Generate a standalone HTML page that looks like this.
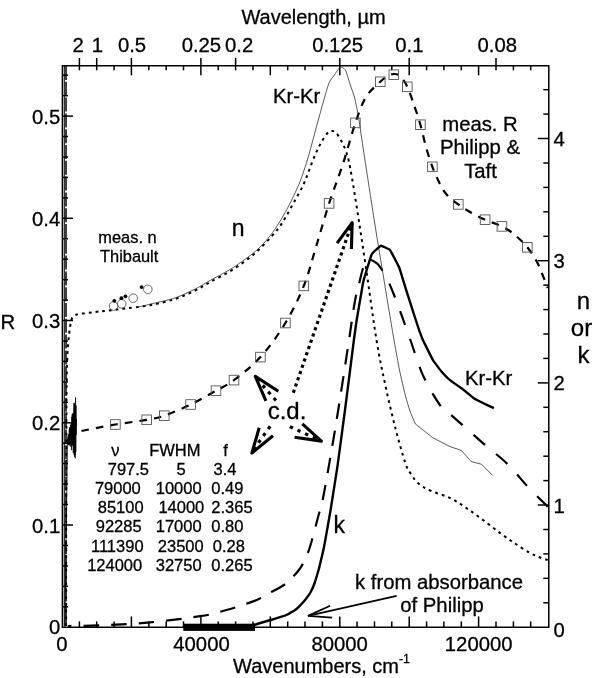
<!DOCTYPE html>
<html><head><meta charset="utf-8"><title>plot</title>
<style>html,body{margin:0;padding:0;background:#fff}svg{display:block}</style></head>
<body><svg width="600" height="678" viewBox="0 0 600 678">
<rect width="600" height="678" fill="#fff"/>
<g stroke="#000" stroke-width="1.5" fill="none" stroke-linecap="butt">
<path d="M62.4,65.7 H548.8 V627.2 H62.4 Z"/>
<path d="M79.4,58.0 V70.3"/>
<path d="M96.7,58.0 V70.3"/>
<path d="M114.1,65.7 V70.3"/>
<path d="M131.4,58.0 V75.3"/>
<path d="M148.8,65.7 V70.3"/>
<path d="M166.2,65.7 V70.3"/>
<path d="M183.5,65.7 V70.3"/>
<path d="M200.9,58.0 V75.3"/>
<path d="M218.2,65.7 V70.3"/>
<path d="M235.6,58.0 V70.3"/>
<path d="M253.0,65.7 V70.3"/>
<path d="M270.3,65.7 V75.3"/>
<path d="M287.7,65.7 V70.3"/>
<path d="M305.0,65.7 V70.3"/>
<path d="M322.4,65.7 V70.3"/>
<path d="M339.8,58.0 V75.3"/>
<path d="M357.1,65.7 V70.3"/>
<path d="M374.5,65.7 V70.3"/>
<path d="M391.8,65.7 V70.3"/>
<path d="M409.2,58.0 V75.3"/>
<path d="M426.6,65.7 V70.3"/>
<path d="M443.9,65.7 V70.3"/>
<path d="M461.3,65.7 V70.3"/>
<path d="M478.6,65.7 V75.3"/>
<path d="M496.0,58.0 V70.3"/>
<path d="M513.4,65.7 V70.3"/>
<path d="M530.7,65.7 V70.3"/>
<path d="M79.4,627.2 V621.4"/>
<path d="M96.7,627.2 V621.4"/>
<path d="M114.1,627.2 V621.4"/>
<path d="M131.4,627.2 V616.4"/>
<path d="M148.8,627.2 V621.4"/>
<path d="M166.2,627.2 V621.4"/>
<path d="M183.5,627.2 V621.4"/>
<path d="M200.9,627.2 V616.4"/>
<path d="M218.2,627.2 V621.4"/>
<path d="M235.6,627.2 V621.4"/>
<path d="M253.0,627.2 V621.4"/>
<path d="M270.3,627.2 V616.4"/>
<path d="M287.7,627.2 V621.4"/>
<path d="M305.0,627.2 V621.4"/>
<path d="M322.4,627.2 V621.4"/>
<path d="M339.8,627.2 V616.4"/>
<path d="M357.1,627.2 V621.4"/>
<path d="M374.5,627.2 V621.4"/>
<path d="M391.8,627.2 V621.4"/>
<path d="M409.2,627.2 V616.4"/>
<path d="M426.6,627.2 V621.4"/>
<path d="M443.9,627.2 V621.4"/>
<path d="M461.3,627.2 V621.4"/>
<path d="M478.6,627.2 V616.4"/>
<path d="M496.0,627.2 V621.4"/>
<path d="M513.4,627.2 V621.4"/>
<path d="M530.7,627.2 V621.4"/>
<path d="M62.4,606.8 H68.0"/>
<path d="M62.4,586.3 H68.0"/>
<path d="M62.4,565.9 H68.0"/>
<path d="M62.4,545.4 H68.0"/>
<path d="M62.4,525.0 H73.0"/>
<path d="M62.4,504.5 H68.0"/>
<path d="M62.4,484.1 H68.0"/>
<path d="M62.4,463.6 H68.0"/>
<path d="M62.4,443.2 H68.0"/>
<path d="M62.4,422.8 H73.0"/>
<path d="M62.4,402.3 H68.0"/>
<path d="M62.4,381.9 H68.0"/>
<path d="M62.4,361.4 H68.0"/>
<path d="M62.4,341.0 H68.0"/>
<path d="M62.4,320.5 H73.0"/>
<path d="M62.4,300.1 H68.0"/>
<path d="M62.4,279.7 H68.0"/>
<path d="M62.4,259.2 H68.0"/>
<path d="M62.4,238.8 H68.0"/>
<path d="M62.4,218.3 H73.0"/>
<path d="M62.4,197.9 H68.0"/>
<path d="M62.4,177.4 H68.0"/>
<path d="M62.4,157.0 H68.0"/>
<path d="M62.4,136.5 H68.0"/>
<path d="M62.4,116.1 H73.0"/>
<path d="M62.4,95.7 H68.0"/>
<path d="M62.4,75.2 H68.0"/>
<path d="M543.3,602.8 H548.8"/>
<path d="M543.3,578.3 H548.8"/>
<path d="M543.3,553.9 H548.8"/>
<path d="M543.3,529.5 H548.8"/>
<path d="M537.8,505.0 H548.8"/>
<path d="M543.3,480.6 H548.8"/>
<path d="M543.3,456.2 H548.8"/>
<path d="M543.3,431.7 H548.8"/>
<path d="M543.3,407.3 H548.8"/>
<path d="M537.8,382.9 H548.8"/>
<path d="M543.3,358.4 H548.8"/>
<path d="M543.3,334.0 H548.8"/>
<path d="M543.3,309.6 H548.8"/>
<path d="M543.3,285.1 H548.8"/>
<path d="M537.8,260.7 H548.8"/>
<path d="M543.3,236.3 H548.8"/>
<path d="M543.3,211.8 H548.8"/>
<path d="M543.3,187.4 H548.8"/>
<path d="M543.3,163.0 H548.8"/>
<path d="M537.8,138.5 H548.8"/>
<path d="M543.3,114.1 H548.8"/>
<path d="M543.3,89.7 H548.8"/>
</g>
<g stroke="#000" fill="none">
<path d="M64.3,66 V626" stroke-width="1.0"/>
<path d="M66.0,66 V626" stroke-width="1.5" stroke-dasharray="14 1.8"/>
</g>
<path d="M64.9,627.0 L66.0,540.0 L67.3,460.0 L67.6,438.5 L67.8,443.8 L68.0,436.4 L68.2,444.6 L68.4,434.4 L68.6,445.1 L68.9,434.3 L69.1,444.3 L69.3,429.5 L69.5,445.4 L69.7,427.4 L69.9,443.6 L70.1,427.1 L70.3,444.5 L70.5,424.7 L70.7,446.7 L70.9,425.7 L71.2,445.0 L71.4,422.2 L71.6,450.2 L71.8,416.7 L72.0,445.3 L72.2,414.2 L72.4,445.4 L72.6,413.4 L72.8,445.6 L73.0,416.8 L73.3,453.1 L73.5,412.9 L73.7,447.2 L73.9,402.8 L74.1,454.8 L74.3,408.1 L74.5,456.7 L74.7,403.1 L74.9,454.1 L75.1,405.1 L75.3,458.3 L75.6,397.5 L75.8,451.9 L76.0,405.5 L76.2,434.9 L76.4,419.0 L76.6,425.5" stroke="#000" stroke-width="0.7" fill="none" stroke-linejoin="miter"/>
<path d="M81.5,430.9 C83.8,430.5 89.3,429.4 95.0,428.3 C100.7,427.2 106.8,425.9 115.4,424.5 C124.0,423.1 138.5,421.3 146.7,419.8 C154.8,418.3 157.0,418.2 164.3,415.7 C171.6,413.1 182.0,408.7 190.6,404.5 C199.2,400.3 208.8,394.8 216.0,390.7 C223.2,386.6 226.6,385.7 234.0,380.1 C241.4,374.5 251.8,366.6 260.4,357.1 C269.0,347.6 278.2,334.9 285.4,323.0 C292.6,311.1 298.7,298.6 303.8,285.9 C308.9,273.2 311.8,260.8 316.0,247.0 C320.2,233.2 324.7,217.1 329.1,203.4 C333.5,189.7 338.2,178.4 342.6,165.0 C347.0,151.6 351.5,134.2 355.4,122.9 C359.3,111.6 361.9,103.8 366.0,97.0 C370.1,90.2 376.6,85.3 380.3,81.8 C384.0,78.3 385.8,77.3 388.0,76.0 C390.2,74.7 391.8,74.0 393.8,74.0 C395.8,74.0 397.8,73.9 400.0,76.0 C402.2,78.1 405.0,82.0 407.3,86.8 C409.6,91.6 411.8,98.7 414.0,105.0 C416.2,111.3 418.4,117.7 420.4,124.7 C422.4,131.7 424.0,140.0 426.0,147.0 C428.0,154.0 430.1,160.6 432.4,166.8 C434.7,173.0 437.6,179.3 440.0,184.0 C442.4,188.7 443.9,191.6 447.0,195.0 C450.1,198.4 454.5,201.6 458.3,204.4 C462.1,207.2 465.5,209.4 470.0,212.0 C474.5,214.6 479.8,217.3 485.1,219.7 C490.4,222.1 496.9,223.8 501.9,226.4 C506.9,229.0 510.8,231.5 515.0,235.0 C519.2,238.5 523.6,242.8 527.3,247.3 C531.0,251.8 534.4,257.2 537.0,262.0 C539.6,266.8 541.2,271.7 543.0,276.0 C544.8,280.3 547.0,286.0 547.8,288.0" stroke="#000" stroke-width="2.2" fill="none" stroke-dasharray="7.6 7.1"/>
<path d="M66.1,626.0 C66.1,605.0 66.1,537.7 66.2,500.0 C66.3,462.3 66.3,423.3 66.5,400.0 C66.7,376.7 66.8,370.8 67.2,360.0 C67.6,349.2 68.3,341.6 69.0,335.0 C69.7,328.4 70.5,323.7 71.3,320.5 C72.1,317.3 72.7,317.1 74.0,316.0 C75.3,314.9 75.8,314.7 79.3,314.0 C82.8,313.3 90.3,312.6 95.0,312.0 C99.7,311.4 102.3,311.3 107.3,310.7 C112.3,310.1 117.9,309.4 125.0,308.5 C132.1,307.6 141.7,306.8 150.0,305.2 C158.3,303.6 167.6,301.4 175.1,299.0 C182.6,296.6 189.2,293.3 195.1,290.5 C200.9,287.7 203.9,285.5 210.2,282.0 C216.5,278.5 225.3,274.3 232.8,269.5 C240.3,264.7 248.2,259.2 255.3,253.0 C262.4,246.8 270.4,237.8 275.4,232.0 C280.3,226.2 281.9,223.4 285.0,218.3 C288.1,213.2 291.1,207.2 294.2,201.7 C297.2,196.1 300.8,190.3 303.3,185.0 C305.8,179.7 307.1,175.3 309.2,170.0 C311.3,164.7 313.7,158.0 315.8,153.3 C317.9,148.6 319.8,145.1 321.7,141.7 C323.6,138.3 325.8,134.8 327.5,133.0 C329.2,131.2 330.3,131.1 331.7,131.0 C333.1,130.9 334.3,131.0 335.8,132.5 C337.3,134.0 339.1,136.9 340.8,140.0 C342.5,143.1 344.2,146.1 345.8,150.8 C347.4,155.5 348.2,157.3 350.2,168.0 C352.2,178.7 355.4,198.3 358.0,215.0 C360.6,231.7 362.9,247.2 366.0,268.0 C369.1,288.8 373.3,320.5 376.5,340.0 C379.7,359.5 382.2,370.5 385.3,385.1 C388.4,399.7 392.0,414.8 395.3,427.8 C398.6,440.8 402.7,455.2 405.3,462.9 C407.9,470.6 408.9,470.6 411.0,474.0 C413.1,477.4 414.7,480.2 417.9,483.0 C421.1,485.8 424.6,488.0 430.0,490.5 C435.4,493.0 443.9,495.1 450.0,498.0 C456.1,500.9 460.8,504.3 466.3,508.0 C471.8,511.7 477.4,515.8 483.0,520.0 C488.6,524.2 494.9,529.2 500.2,533.1 C505.5,537.0 510.0,540.2 515.0,543.5 C520.0,546.8 526.1,550.8 530.3,553.1 C534.5,555.4 537.1,556.4 540.0,557.5 C542.9,558.6 546.5,559.6 547.8,560.0" stroke="#000" stroke-width="2.0" fill="none" stroke-dasharray="2.8 4.0"/>
<path d="M138.5,307.0 C140.0,306.6 145.1,305.4 150.0,304.2 C154.9,303.0 169.1,299.9 175.1,297.9 C181.1,295.9 190.4,291.4 195.1,289.1 C199.8,286.8 205.2,283.2 210.2,280.4 C215.2,277.6 226.8,271.7 232.8,267.8 C238.8,263.9 250.3,255.7 255.3,251.5 C260.3,247.3 266.6,240.2 270.0,236.0 C273.4,231.8 278.1,224.4 280.8,220.0 C283.5,215.6 287.4,208.4 290.0,203.3 C292.6,198.2 297.6,187.9 300.0,181.7 C302.4,175.5 305.9,164.9 308.3,156.7 C310.7,148.5 315.6,129.6 318.3,120.0 C321.0,110.4 326.2,90.9 328.3,85.0 C330.4,79.1 332.4,77.9 334.0,75.5 C335.6,73.1 338.8,68.3 340.0,67.3 C341.2,66.3 342.2,67.5 343.0,68.0 C343.8,68.5 344.9,68.7 345.8,70.8 C346.7,72.9 348.8,80.2 350.0,84.0 C351.2,87.8 353.8,94.2 355.0,99.2 C356.2,104.2 358.0,114.3 359.2,121.7 C360.4,129.1 363.2,148.6 364.2,155.0 C365.2,161.4 365.1,160.7 366.5,170.0 C367.9,179.3 372.7,210.3 375.0,225.0 C377.3,239.7 381.5,264.7 384.0,280.0 C386.5,295.3 391.9,328.0 394.0,340.0 C396.1,352.0 398.0,362.6 399.5,370.0 C401.0,377.4 403.9,389.7 405.3,395.2 C406.7,400.7 408.7,407.2 410.0,411.0 C411.3,414.8 414.7,422.3 415.4,424.0 L432.9,437.8 L450.0,446.6 L461.3,450.4 L471.3,461.6 L481.4,464.2 L492.6,475.4" stroke="#222" stroke-width="0.75" fill="none"/>
<path d="M254.0,625.0 C254.3,624.9 261.3,622.7 262.0,622.5 C262.7,622.3 270.0,620.2 270.7,620.0 C271.4,619.8 279.3,617.4 280.0,617.2 C280.7,617.0 287.4,614.6 288.0,614.3 C288.6,614.0 293.5,611.1 294.0,610.8 C294.5,610.5 299.5,606.1 300.0,605.6 C300.5,605.1 305.1,600.0 305.5,599.5 C305.9,599.0 310.3,592.7 310.7,592.0 C311.1,591.3 314.7,582.9 315.0,582.0 C315.3,581.1 318.4,570.5 318.7,569.5 C319.0,568.5 321.7,557.2 322.0,556.0 C322.3,554.8 324.9,542.4 325.2,540.6 C325.5,538.8 330.1,513.0 330.6,510.0 C331.1,507.0 337.0,469.4 337.6,465.4 C338.2,461.4 344.3,415.0 345.0,410.0 C345.7,405.0 353.4,343.6 353.9,340.0 C354.4,336.4 356.3,322.3 356.7,320.0 C357.1,317.7 362.7,284.3 363.3,281.7 C363.9,279.1 371.0,255.6 371.7,254.2 C372.4,252.8 380.1,246.0 380.8,245.8 C381.5,245.6 389.3,249.1 390.0,250.0 C390.7,250.9 398.5,265.8 399.2,267.5 C399.9,269.2 406.0,289.6 406.7,291.7 C407.4,293.8 415.2,318.1 415.8,320.0 C416.4,321.9 422.2,338.4 422.9,340.0 C423.6,341.6 432.2,358.8 432.9,360.0 C433.6,361.2 440.3,370.2 441.0,371.0 C441.7,371.8 449.1,379.4 450.0,380.1 C450.9,380.8 461.5,388.3 462.5,389.0 C463.5,389.7 472.9,397.6 473.8,398.2 C474.7,398.8 483.2,403.1 484.0,403.5 C484.8,403.9 493.5,408.0 493.9,408.2" stroke="#000" stroke-width="2.4" fill="none"/>
<path d="M377.5,263.7 C376.4,263.1 372.7,260.1 370.8,260.0 C368.9,259.9 367.4,261.3 366.0,263.0 C364.6,264.7 363.6,266.6 362.5,270.0 C361.4,273.4 360.3,278.9 359.2,283.3 C358.1,287.8 356.8,292.1 355.8,296.7 C354.8,301.3 354.7,302.1 353.3,310.8 C351.9,319.5 350.8,328.9 347.7,348.8 C344.6,368.7 339.2,404.7 335.0,430.0 C330.8,455.3 325.3,486.4 322.6,500.5 C319.9,514.5 320.6,507.7 318.8,514.3 C317.0,520.9 314.0,533.0 312.0,540.0 C310.0,547.0 308.7,551.2 306.7,556.0 C304.7,560.8 302.7,564.6 300.0,568.5 C297.3,572.4 293.6,576.3 290.7,579.2 C287.8,582.1 286.5,583.4 282.7,585.8 C278.9,588.2 272.2,591.5 268.0,593.8 C263.8,596.1 261.5,597.8 257.3,599.7 C253.1,601.6 246.9,603.5 242.7,605.0 C238.5,606.5 236.2,607.2 232.0,608.5 C227.8,609.8 222.6,611.2 217.3,612.5 C212.0,613.8 211.4,614.6 200.2,616.2 C189.0,617.9 166.7,620.9 150.0,622.4 C133.3,623.9 113.7,624.7 100.0,625.3 C86.3,625.9 73.3,625.9 68.0,626.0" stroke="#000" stroke-width="2.2" fill="none" stroke-dasharray="15.5 12" stroke-dashoffset="8"/>
<path d="M377.5,263.7 C378.3,264.9 380.6,267.5 382.5,270.8 C384.4,274.1 387.1,278.9 389.2,283.3 C391.3,287.8 393.2,292.9 395.0,297.5 C396.8,302.1 398.6,307.1 400.0,310.8 C401.4,314.6 401.6,315.1 403.3,320.0 C405.0,324.9 407.1,330.8 410.4,340.0 C413.7,349.2 418.1,364.4 422.9,375.1 C427.7,385.8 434.7,397.5 439.2,404.0 C443.7,410.5 442.8,407.5 450.0,414.0 C457.2,420.5 473.0,434.4 482.6,442.8 C492.2,451.2 500.2,456.9 507.7,464.2 C515.2,471.5 521.1,479.6 527.8,486.7 C534.5,493.8 544.5,503.4 547.8,506.8" stroke="#000" stroke-width="2.2" fill="none" stroke-dasharray="15 14.5" stroke-dashoffset="6.3"/>
<rect x="110.6" y="419.7" width="9.6" height="9.6" fill="none" stroke="#555" stroke-width="0.9"/>
<rect x="141.9" y="415.0" width="9.6" height="9.6" fill="none" stroke="#555" stroke-width="0.9"/>
<rect x="159.5" y="410.9" width="9.6" height="9.6" fill="none" stroke="#555" stroke-width="0.9"/>
<rect x="185.8" y="399.7" width="9.6" height="9.6" fill="none" stroke="#555" stroke-width="0.9"/>
<rect x="211.2" y="385.9" width="9.6" height="9.6" fill="none" stroke="#555" stroke-width="0.9"/>
<rect x="229.2" y="375.3" width="9.6" height="9.6" fill="none" stroke="#555" stroke-width="0.9"/>
<rect x="255.6" y="352.3" width="9.6" height="9.6" fill="none" stroke="#555" stroke-width="0.9"/>
<rect x="280.6" y="318.2" width="9.6" height="9.6" fill="none" stroke="#555" stroke-width="0.9"/>
<rect x="299.0" y="281.1" width="9.6" height="9.6" fill="none" stroke="#555" stroke-width="0.9"/>
<rect x="324.3" y="198.6" width="9.6" height="9.6" fill="none" stroke="#555" stroke-width="0.9"/>
<rect x="350.6" y="118.1" width="9.6" height="9.6" fill="none" stroke="#555" stroke-width="0.9"/>
<rect x="375.5" y="77.0" width="9.6" height="9.6" fill="none" stroke="#555" stroke-width="0.9"/>
<rect x="389.0" y="69.9" width="9.6" height="9.6" fill="none" stroke="#555" stroke-width="0.9"/>
<rect x="402.5" y="82.0" width="9.6" height="9.6" fill="none" stroke="#555" stroke-width="0.9"/>
<rect x="415.6" y="119.9" width="9.6" height="9.6" fill="none" stroke="#555" stroke-width="0.9"/>
<rect x="427.6" y="162.0" width="9.6" height="9.6" fill="none" stroke="#555" stroke-width="0.9"/>
<rect x="453.5" y="199.6" width="9.6" height="9.6" fill="none" stroke="#555" stroke-width="0.9"/>
<rect x="480.3" y="214.9" width="9.6" height="9.6" fill="none" stroke="#555" stroke-width="0.9"/>
<rect x="497.1" y="221.6" width="9.6" height="9.6" fill="none" stroke="#555" stroke-width="0.9"/>
<rect x="522.5" y="242.5" width="9.6" height="9.6" fill="none" stroke="#555" stroke-width="0.9"/>
<circle cx="113.6" cy="306.0" r="4.3" fill="none" stroke="#444" stroke-width="0.8"/>
<circle cx="121.7" cy="303.8" r="4.3" fill="none" stroke="#444" stroke-width="0.8"/>
<circle cx="133.2" cy="298.2" r="4.3" fill="none" stroke="#444" stroke-width="0.8"/>
<circle cx="147.8" cy="289.3" r="4.3" fill="none" stroke="#444" stroke-width="0.8"/>
<circle cx="114.3" cy="300.8" r="1.9" fill="#000"/>
<circle cx="121.4" cy="298.2" r="1.9" fill="#000"/>
<circle cx="125.4" cy="296.3" r="1.9" fill="#000"/>
<circle cx="141.6" cy="287.1" r="1.9" fill="#000"/>
<rect x="183.3" y="623.7" width="71.7" height="7.2" fill="#000"/>
<g stroke="#000" fill="none" stroke-width="3.1" stroke-linejoin="round" stroke-linecap="butt">
<path d="M293.3,392.7 L352,223" stroke-dasharray="3.2 3.4" stroke-width="3.2"/>
<path d="M337.1,243.2 L352.2,222.7 L351.4,249"/>
<path d="M278.3,391.3 L255.3,376.4 L265.9,400.9"/>
<path d="M276,400.5 L258,380" stroke-dasharray="3.4 5" stroke-width="3.2"/>
<path d="M259.2,427.7 L251.9,453 L273,435.8"/>
<path d="M270.2,426.3 L254,449" stroke-dasharray="3.4 5" stroke-width="3.2"/>
<path d="M302.3,423.9 L321.4,441.1 L294.6,437.3"/>
<path d="M289.8,426.6 L318,439.5" stroke-dasharray="3.4 5" stroke-width="3.2"/>
</g>
<g stroke="#000" fill="none" stroke-width="1.8">
<path d="M396.6,595.8 L308,615.9"/>
<path d="M330.1,605.8 L308,615.9 L332.1,617.6"/>
</g>
<g font-family="'Liberation Sans', sans-serif" fill="#000" stroke="#000" stroke-width="0.3">
<text x="313.5" y="24.0" font-size="20.0" text-anchor="middle" >Wavelength, µm</text>
<text x="78.2" y="51.5" font-size="20.3" text-anchor="middle" >2</text>
<text x="97.3" y="51.5" font-size="20.3" text-anchor="middle" >1</text>
<text x="132.0" y="51.5" font-size="20.3" text-anchor="middle" >0.5</text>
<text x="201.4" y="51.5" font-size="20.3" text-anchor="middle" >0.25</text>
<text x="239.2" y="51.5" font-size="20.3" text-anchor="middle" >0.2</text>
<text x="337.6" y="51.5" font-size="20.3" text-anchor="middle" >0.125</text>
<text x="409.4" y="51.5" font-size="20.3" text-anchor="middle" >0.1</text>
<text x="497.3" y="51.5" font-size="20.3" text-anchor="middle" >0.08</text>
<text x="60.3" y="123.7" font-size="20.3" text-anchor="end" >0.5</text>
<text x="60.3" y="225.9" font-size="20.3" text-anchor="end" >0.4</text>
<text x="60.3" y="328.1" font-size="20.3" text-anchor="end" >0.3</text>
<text x="60.3" y="430.4" font-size="20.3" text-anchor="end" >0.2</text>
<text x="60.3" y="532.6" font-size="20.3" text-anchor="end" >0.1</text>
<text x="60.3" y="634.2" font-size="20.3" text-anchor="end" >0</text>
<text x="0.5" y="329.0" font-size="20.3" text-anchor="start" >R</text>
<text x="553.5" y="146.0" font-size="20.3" text-anchor="start" >4</text>
<text x="553.5" y="268.2" font-size="20.3" text-anchor="start" >3</text>
<text x="553.5" y="390.4" font-size="20.3" text-anchor="start" >2</text>
<text x="553.5" y="512.5" font-size="20.3" text-anchor="start" >1</text>
<text x="553.5" y="637.3" font-size="20.3" text-anchor="start" >0</text>
<text x="62.0" y="650.8" font-size="20.3" text-anchor="middle" >0</text>
<text x="201.5" y="650.8" font-size="20.3" text-anchor="middle" >40000</text>
<text x="339.6" y="650.8" font-size="20.3" text-anchor="middle" >80000</text>
<text x="478.7" y="650.8" font-size="20.3" text-anchor="middle" >120000</text>
<text x="233" y="673.4" font-size="20">Wavenumbers, cm<tspan font-size="12.3" dy="-10.5">-1</tspan></text>
<text x="583.5" y="308.5" font-size="24.0" text-anchor="middle" >n</text>
<text x="581.5" y="335.5" font-size="24.0" text-anchor="middle" >or</text>
<text x="583.5" y="363.3" font-size="24.0" text-anchor="middle" >k</text>
<text x="273.0" y="103.0" font-size="20.3" text-anchor="start" >Kr-Kr</text>
<text x="464.9" y="384.6" font-size="20.3" text-anchor="start" >Kr-Kr</text>
<text x="231.7" y="235.7" font-size="23.0" text-anchor="start" >n</text>
<text x="333.5" y="533.4" font-size="23.0" text-anchor="start" >k</text>
<text x="267.7" y="419.3" font-size="24.0" text-anchor="start" >c.d.</text>
<text x="98.3" y="243.2" font-size="16.4" text-anchor="start" >meas. n</text>
<text x="100.0" y="262.2" font-size="16.4" text-anchor="start" >Thibault</text>
<text x="480.0" y="131.2" font-size="20.3" text-anchor="middle" >meas. R</text>
<text x="480.0" y="154.0" font-size="20.3" text-anchor="middle" >Philipp &amp;</text>
<text x="480.5" y="177.7" font-size="20.3" text-anchor="middle" >Taft</text>
<text x="355.0" y="589.1" font-size="20.3" text-anchor="start" >k from absorbance</text>
<text x="400.3" y="611.9" font-size="20.3" text-anchor="start" >of Philipp</text>
<text x="119.5" y="456.2" font-size="16.5" text-anchor="end" >ν</text>
<text x="200.5" y="456.2" font-size="16.5" text-anchor="end" >FWHM</text>
<text x="223.2" y="456.2" font-size="16.5" text-anchor="start" >f</text>
<text x="149.0" y="475.1" font-size="16.5" text-anchor="end" >797.5</text>
<text x="185.8" y="475.1" font-size="16.5" text-anchor="end" >5</text>
<text x="213.6" y="475.1" font-size="16.5" text-anchor="start" >3.4</text>
<text x="140.8" y="494.1" font-size="16.5" text-anchor="end" >79000</text>
<text x="201.6" y="494.1" font-size="16.5" text-anchor="end" >10000</text>
<text x="211.3" y="494.1" font-size="16.5" text-anchor="start" >0.49</text>
<text x="143.6" y="513.4" font-size="16.5" text-anchor="end" >85100</text>
<text x="204.3" y="513.4" font-size="16.5" text-anchor="end" >14000</text>
<text x="211.3" y="513.4" font-size="16.5" text-anchor="start" >2.365</text>
<text x="141.6" y="532.4" font-size="16.5" text-anchor="end" >92285</text>
<text x="201.6" y="532.4" font-size="16.5" text-anchor="end" >17000</text>
<text x="211.3" y="532.4" font-size="16.5" text-anchor="start" >0.80</text>
<text x="143.6" y="551.6" font-size="16.5" text-anchor="end" >111390</text>
<text x="203.7" y="551.6" font-size="16.5" text-anchor="end" >23500</text>
<text x="212.8" y="551.6" font-size="16.5" text-anchor="start" >0.28</text>
<text x="142.2" y="570.8" font-size="16.5" text-anchor="end" >124000</text>
<text x="201.6" y="570.8" font-size="16.5" text-anchor="end" >32750</text>
<text x="211.3" y="570.8" font-size="16.5" text-anchor="start" >0.265</text>
</g>
</svg></body></html>
